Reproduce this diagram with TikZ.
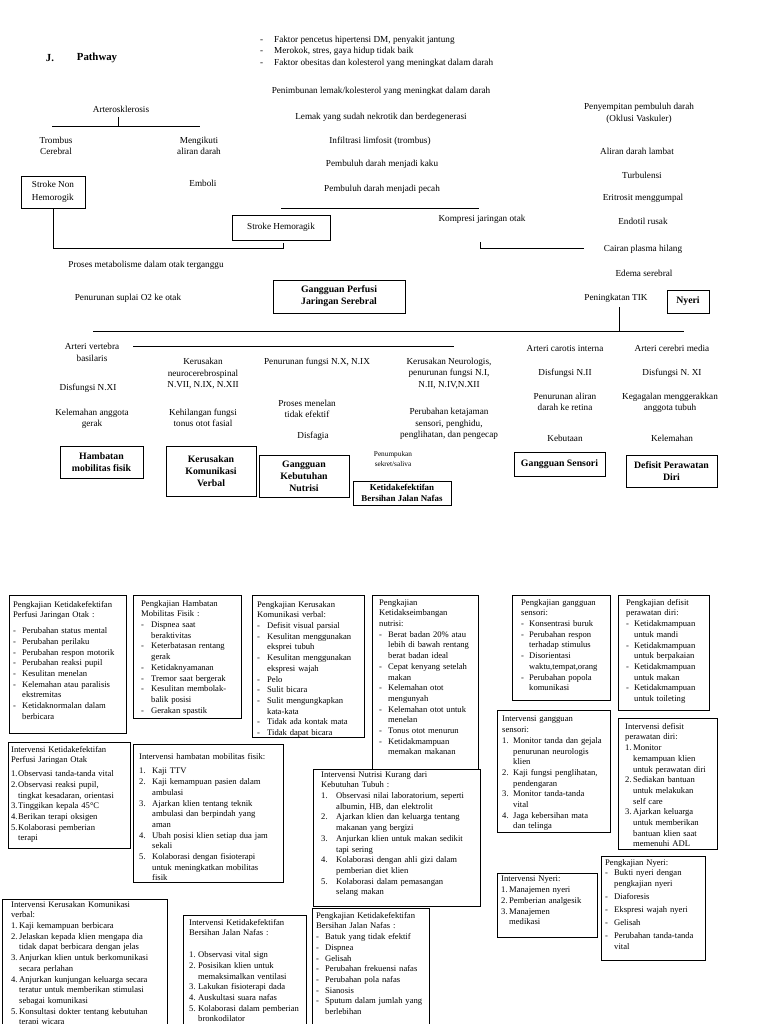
\documentclass[tikz,border=0pt]{standalone}
\usepackage{fontspec}
\setmainfont{Liberation Serif}
\newlength\iw
\newcommand\ditm[1]{\makebox[\iw][l]{-}#1}
\newcommand\dcnt[1]{\hspace*{\iw}#1}
\newcommand\nitm[2]{\makebox[\iw][l]{#1}#2}
\newcommand\ncnt[1]{\hspace*{\iw}#1}
\begin{document}
\begin{tikzpicture}[x=1pt,y=-1pt,
  pt/.style={inner sep=0pt, align=center, font=\fontsize{9.2}{11.5}\selectfont},
  sm/.style={inner sep=0pt, align=center, font=\fontsize{7.3}{9.5}\selectfont},
  pbox/.style={draw, line width=0.8pt, inner sep=0pt, align=center, font=\bfseries\fontsize{9.8}{12}\selectfont},
  pbox2/.style={draw, line width=0.8pt, inner sep=0pt, align=left, font=\fontsize{9.2}{12.5}\selectfont},
  ln/.style={line width=0.8pt},
  kbox/.style={draw, line width=0.8pt, fill=white, inner sep=0pt, anchor=north west},
  ktxt/.style={inner sep=0pt, anchor=north west, align=left, text width=200pt, font=\fontsize{8.6}{10.7}\selectfont}]
\useasboundingbox (0,0) rectangle (768,1024);
\fill[white] (0,0) rectangle (768,1024);
\clip (0,0) rectangle (768,1024);

% ---------- header ----------
\node[pt, font=\bfseries\fontsize{10.8}{12}\selectfont] (j) at (50,58) {J.};
\node[pt, font=\bfseries\fontsize{10.8}{12}\selectfont] (pw) at (97,58) {Pathway};
\node[pt, anchor=north west, align=left] (fak) at (260,35.5) {\makebox[14pt][l]{-}Faktor pencetus hipertensi DM, penyakit jantung\\
\makebox[14pt][l]{-}Merokok, stres, gaya hidup tidak baik\\
\makebox[14pt][l]{-}Faktor obesitas dan kolesterol yang meningkat dalam darah};

% ---------- central chain ----------
\node[pt] (pen) at (381,91) {Penimbunan lemak/kolesterol yang meningkat dalam darah};
\node[pt] (lem) at (381,117) {Lemak yang sudah nekrotik dan berdegenerasi};
\node[pt] (inf) at (380,141) {Infiltrasi limfosit (trombus)};
\node[pt] (kaku) at (382,164) {Pembuluh darah menjadi kaku};
\node[pt] (pecah) at (382,189) {Pembuluh darah menjadi pecah};
\coordinate (p1) at (281,208); \coordinate (p2) at (479,208);
\draw[ln] (p1) -- (p2);

% ---------- left branch ----------
\node[pt] (arter) at (121,109) {Arterosklerosis};
\coordinate (a1) at (52,126); \coordinate (a2) at (200,126); \coordinate (a3) at (118,117); \coordinate (a4) at (118,126);
\draw[ln] (a1) -- (a2);
\draw[ln] (a3) -- (a4);
\node[pt] (trom) at (56,146) {Trombus\\Cerebral};
\node[pt] (meng) at (199,146) {Mengikuti\\aliran darah};
\node[pt] (emb) at (203,183) {Emboli};
\node[pbox2, minimum width=64pt, minimum height=32pt] (snh) at (53,192) {Stroke Non\\Hemorogik};
\node[pbox2, minimum width=98pt, minimum height=25pt] (sh) at (281,227.5) {Stroke Hemoragik};
\coordinate (sh0) at (283,248); \coordinate (sh1) at (283,243);
\draw[ln] (snh.south) |- (sh0) -- (sh1);
\node[pt] (pros) at (146,265) {Proses metabolisme dalam otak terganggu};
\node[pt] (supl) at (128,298) {Penurunan suplai O2 ke otak};
\node[pbox, minimum width=132pt, minimum height=33pt] (gpjs) at (339,296.5) {Gangguan Perfusi\\Jaringan Serebral};

% ---------- right branch ----------
\node[pt] (kom) at (482,219) {Kompresi jaringan otak};
\coordinate (k1) at (480,242); \coordinate (k2) at (480,248); \coordinate (k3) at (584,248);
\draw[ln] (k1) -- (k2) -- (k3);
\node[pt] (peny) at (639,113.5) {Penyempitan pembuluh darah\\(Oklusi Vaskuler)};
\node[pt] (ali) at (637,151) {Aliran darah lambat};
\node[pt] (turb) at (642,175) {Turbulensi};
\node[pt] (eri) at (643,198) {Eritrosit menggumpal};
\node[pt] (endo) at (643,221) {Endotil rusak};
\node[pt] (cair) at (643,249) {Cairan plasma hilang};
\node[pt] (edema) at (644,273) {Edema serebral};
\node[pt] (tik) at (616,298) {Peningkatan TIK};
\node[pbox, minimum width=42pt, minimum height=23pt] (nyeri) at (688,301.5) {Nyeri};
\coordinate (t1) at (619,307); \coordinate (t2) at (619,331);
\draw[ln] (t1) -- (t2);
\coordinate (L1) at (93,331); \coordinate (L2) at (684,331);
\draw[ln] (L1) -- (L2);
\coordinate (M1) at (133,346); \coordinate (M2) at (454,346);
\draw[ln] (M1) -- (M2);

% ---------- columns ----------
\node[pt] (avb) at (92,352.5) {Arteri vertebra\\basilaris};
\node[pt] (dnxi) at (88,388) {Disfungsi N.XI};
\node[pt] (kag) at (92,419) {Kelemahan anggota\\gerak};
\node[pbox, minimum width=83pt, minimum height=32pt] (hmf) at (101.5,462) {Hambatan\\mobilitas fisik};

\node[pt] (kns) at (203,374) {Kerusakan\\neurocerebrospinal\\N.VII, N.IX, N.XII};
\node[pt] (kft) at (203,418) {Kehilangan fungsi\\tonus otot fasial};
\node[pbox, minimum width=90pt, minimum height=50pt] (kkv) at (211,471) {Kerusakan\\Komunikasi\\Verbal};

\node[pt] (pfn) at (317,362) {Penurunan fungsi N.X, N.IX};
\node[pt] (pme) at (307,409) {Proses menelan\\tidak efektif};
\node[pt] (dis) at (313,436) {Disfagia};
\node[pbox, minimum width=90pt, minimum height=42pt] (gkn) at (304,476) {Gangguan\\Kebutuhan\\Nutrisi};

\node[pt] (kn) at (449,373.5) {Kerusakan Neurologis,\\penurunan fungsi N.I,\\N.II, N.IV,N.XII};
\node[pt] (pks) at (449,424) {Perubahan ketajaman\\sensori, penghidu,\\penglihatan, dan pengecap};
\node[sm] (pss) at (393,459) {Penumpukan\\sekret/saliva};
\node[pbox, font=\bfseries\fontsize{8.9}{10.5}\selectfont, minimum width=98pt, minimum height=24pt] (kbjn) at (402,493) {Ketidakefektifan\\Bersihan Jalan Nafas};

\node[pt] (aci) at (565,348) {Arteri carotis interna};
\node[pt] (dnii) at (565,373) {Disfungsi N.II};
\node[pt] (par) at (565,402) {Penurunan aliran\\darah ke retina};
\node[pt] (keb) at (565,438) {Kebutaan};
\node[pbox, minimum width=91pt, minimum height=24pt] (gs) at (559.5,464) {Gangguan Sensori};

\node[pt] (acm) at (672,348) {Arteri cerebri media};
\node[pt] (dnxi2) at (672,373) {Disfungsi N. XI};
\node[pt] (kgm) at (670,403) {Kegagalan menggerakkan\\anggota tubuh};
\node[pt] (kel) at (672,438) {Kelemahan};
\node[pbox, minimum width=91pt, minimum height=32pt] (dpd) at (671.5,471) {Defisit Perawatan\\Diri};

% ---------- bottom boxes ----------
% A
\node[kbox, minimum width=117pt, minimum height=138pt] (A) at (9,595) {};
\node[ktxt] (At) at (13,601) {\setlength\iw{9pt}\noindent Pengkajian Ketidakefektifan\\
Perfusi Jaringan Otak :\\[5pt]
\ditm{Perubahan status mental}\\
\ditm{Perubahan perilaku}\\
\ditm{Perubahan respon motorik}\\
\ditm{Perubahan reaksi pupil}\\
\ditm{Kesulitan menelan}\\
\ditm{Kelemahan atau paralisis}\\
\dcnt{ekstremitas}\\
\ditm{Ketidaknormalan dalam}\\
\dcnt{berbicara}};
% B
\node[kbox, minimum width=108pt, minimum height=123pt] (B) at (133,595) {};
\node[ktxt] (Bt) at (141,600) {\setlength\iw{10pt}\noindent Pengkajian Hambatan\\
Mobilitas Fisik :\\
\ditm{Dispnea saat}\\
\dcnt{beraktivitas}\\
\ditm{Keterbatasan rentang}\\
\dcnt{gerak}\\
\ditm{Ketidaknyamanan}\\
\ditm{Tremor saat bergerak}\\
\ditm{Kesulitan membolak-}\\
\dcnt{balik posisi}\\
\ditm{Gerakan spastik}};
% C
\node[kbox, minimum width=112pt, minimum height=142pt] (C) at (252,595) {};
\node[ktxt] (Ct) at (257,601) {\setlength\iw{10pt}\noindent Pengkajian Kerusakan\\
Komunikasi verbal:\\
\ditm{Defisit visual parsial}\\
\ditm{Kesulitan menggunakan}\\
\dcnt{eksprei tubuh}\\
\ditm{Kesulitan menggunakan}\\
\dcnt{ekspresi wajah}\\
\ditm{Pelo}\\
\ditm{Sulit bicara}\\
\ditm{Sulit mengungkapkan}\\
\dcnt{kata-kata}\\
\ditm{Tidak ada kontak mata}\\
\ditm{Tidak dapat bicara}};
% D
\node[kbox, minimum width=106pt, minimum height=180pt] (D) at (372,595) {};
\node[ktxt] (Dt) at (379,599) {\setlength\iw{9pt}\noindent Pengkajian\\
Ketidakseimbangan\\
nutrisi:\\
\ditm{Berat badan 20\% atau}\\
\dcnt{lebih di bawah rentang}\\
\dcnt{berat badan ideal}\\
\ditm{Cepat kenyang setelah}\\
\dcnt{makan}\\
\ditm{Kelemahan otot}\\
\dcnt{mengunyah}\\
\ditm{Kelemahan otot untuk}\\
\dcnt{menelan}\\
\ditm{Tonus otot menurun}\\
\ditm{Ketidakmampuan}\\
\dcnt{memakan makanan}};
% E
\node[kbox, minimum width=98pt, minimum height=105pt] (E) at (512,595) {};
\node[ktxt] (Et) at (521,599) {\setlength\iw{8pt}\noindent Pengkajian gangguan\\
sensori:\\
\ditm{Konsentrasi buruk}\\
\ditm{Perubahan respon}\\
\dcnt{terhadap stimulus}\\
\ditm{Disorientasi}\\
\dcnt{waktu,tempat,orang}\\
\ditm{Perubahan popola}\\
\dcnt{komunikasi}};
% F
\node[kbox, minimum width=91pt, minimum height=115pt] (F) at (618,595) {};
\node[ktxt] (Ft) at (626,599) {\setlength\iw{8pt}\noindent Pengkajian defisit\\
perawatan diri:\\
\ditm{Ketidakmampuan}\\
\dcnt{untuk mandi}\\
\ditm{Ketidakmampuan}\\
\dcnt{untuk berpakaian}\\
\ditm{Ketidakmampuan}\\
\dcnt{untuk makan}\\
\ditm{Ketidakmampuan}\\
\dcnt{untuk toileting}};
% G
\node[kbox, minimum width=113pt, minimum height=122pt] (G) at (497,710) {};
\node[ktxt] (Gt) at (502,716) {\setlength\iw{11pt}\noindent Intervensi gangguan\\
sensori:\\
\nitm{1.}{Monitor tanda dan gejala}\\
\ncnt{penurunan neurologis}\\
\ncnt{klien}\\
\nitm{2.}{Kaji fungsi penglihatan,}\\
\ncnt{pendengaran}\\
\nitm{3.}{Monitor tanda-tanda}\\
\ncnt{vital}\\
\nitm{4.}{Jaga kebersihan mata}\\
\ncnt{dan telinga}};
% H
\node[kbox, minimum width=99pt, minimum height=131pt] (H) at (618,718) {};
\node[ktxt] (Ht) at (625,723) {\setlength\iw{8pt}\noindent Intervensi defisit\\
perawatan diri:\\
\nitm{1.}{Monitor}\\
\ncnt{kemampuan klien}\\
\ncnt{untuk perawatan diri}\\
\nitm{2.}{Sediakan bantuan}\\
\ncnt{untuk melakukan}\\
\ncnt{self care}\\
\nitm{3.}{Ajarkan keluarga}\\
\ncnt{untuk memberikan}\\
\ncnt{bantuan klien saat}\\
\ncnt{memenuhi ADL}};
% I
\node[kbox, minimum width=122pt, minimum height=106pt] (I) at (8,742) {};
\node[ktxt] (It) at (11,746) {\setlength\iw{7pt}\noindent Intervensi Ketidakefektifan\\
Perfusi Jaringan Otak\\[3pt]
\nitm{1.}{Observasi tanda-tanda vital}\\
\nitm{2.}{Observasi reaksi pupil,}\\
\ncnt{tingkat kesadaran, orientasi}\\
\nitm{3.}{Tinggikan kepala 45°C}\\
\nitm{4.}{Berikan terapi oksigen}\\
\nitm{5.}{Kolaborasi pemberian}\\
\ncnt{terapi}};
% J
\node[kbox, minimum width=150pt, minimum height=138pt] (J) at (133,744) {};
\node[ktxt] (Jt) at (139,753) {\setlength\iw{13pt}\noindent Intervensi hambatan mobilitas fisik:\\[4pt]
\nitm{1.}{Kaji TTV}\\
\nitm{2.}{Kaji kemampuan pasien dalam}\\
\ncnt{ambulasi}\\
\nitm{3.}{Ajarkan klien tentang teknik}\\
\ncnt{ambulasi dan berpindah yang}\\
\ncnt{aman}\\
\nitm{4.}{Ubah posisi klien setiap dua jam}\\
\ncnt{sekali}\\
\nitm{5.}{Kolaborasi dengan fisioterapi}\\
\ncnt{untuk meningkatkan mobilitas}\\
\ncnt{fisik}};
% K
\node[kbox, minimum width=167pt, minimum height=137pt] (K) at (313,769) {};
\node[ktxt] (Kt) at (321,771) {\setlength\iw{15pt}\noindent Intervensi Nutrisi Kurang dari\\
Kebutuhan Tubuh :\\
\nitm{1.}{Observasi nilai laboratorium, seperti}\\
\ncnt{albumin, HB, dan elektrolit}\\
\nitm{2.}{Ajarkan klien dan keluarga tentang}\\
\ncnt{makanan yang bergizi}\\
\nitm{3.}{Anjurkan klien untuk makan sedikit}\\
\ncnt{tapi sering}\\
\nitm{4.}{Kolaborasi dengan ahli gizi dalam}\\
\ncnt{pemberian diet klien}\\
\nitm{5.}{Kolaborasi dalam pemasangan}\\
\ncnt{selang makan}};
% L
\node[kbox, minimum width=100pt, minimum height=64pt] (L) at (497,873) {};
\node[ktxt] (Lt) at (501,876) {\setlength\iw{8pt}\noindent Intervensi Nyeri:\\
\nitm{1.}{Manajemen nyeri}\\
\nitm{2.}{Pemberian analgesik}\\
\nitm{3.}{Manajemen}\\
\ncnt{medikasi}};
% M
\node[kbox, minimum width=104pt, minimum height=104pt] (M) at (601,856) {};
\node[ktxt] (Mt) at (605,859) {\setlength\iw{9pt}\noindent Pengkajian Nyeri:\\
\ditm{Bukti nyeri dengan}\\
\dcnt{pengkajian nyeri}\\[2pt]
\ditm{Diaforesis}\\[3pt]
\ditm{Ekspresi wajah nyeri}\\[2pt]
\ditm{Gelisah}\\[2pt]
\ditm{Perubahan tanda-tanda}\\
\dcnt{vital}};
% N
\node[kbox, minimum width=165pt, minimum height=150pt] (N) at (2,899) {};
\node[ktxt] (Nt) at (11,901) {\setlength\iw{8pt}\noindent Intervensi Kerusakan Komunikasi\\
verbal:\\
\nitm{1.}{Kaji kemampuan berbicara}\\
\nitm{2.}{Jelaskan kepada klien mengapa dia}\\
\ncnt{tidak dapat berbicara dengan jelas}\\
\nitm{3.}{Anjurkan klien untuk berkomunikasi}\\
\ncnt{secara perlahan}\\
\nitm{4.}{Anjurkan kunjungan keluarga secara}\\
\ncnt{teratur untuk memberikan stimulasi}\\
\ncnt{sebagai komunikasi}\\
\nitm{5.}{Konsultasi dokter tentang kebutuhan}\\
\ncnt{terapi wicara}};
% O
\node[kbox, minimum width=123pt, minimum height=140pt] (O) at (183,915) {};
\node[ktxt] (Ot) at (189,919) {\setlength\iw{9pt}\noindent Intervensi Ketidakefektifan\\
Bersihan Jalan Nafas :\\[11pt]
\nitm{1.}{Observasi vital sign}\\
\nitm{2.}{Posisikan klien untuk}\\
\ncnt{memaksimalkan ventilasi}\\
\nitm{3.}{Lakukan fisioterapi dada}\\
\nitm{4.}{Auskultasi suara nafas}\\
\nitm{5.}{Kolaborasi dalam pemberian}\\
\ncnt{bronkodilator}};
% P
\node[kbox, minimum width=117pt, minimum height=140pt] (P) at (312,908) {};
\node[ktxt] (Pt) at (316,912) {\setlength\iw{9pt}\noindent Pengkajian Ketidakefektifan\\
Bersihan Jalan Nafas :\\
\ditm{Batuk yang tidak efektif}\\
\ditm{Dispnea}\\
\ditm{Gelisah}\\
\ditm{Perubahan frekuensi nafas}\\
\ditm{Perubahan pola nafas}\\
\ditm{Sianosis}\\
\ditm{Sputum dalam jumlah yang}\\
\dcnt{berlebihan}};
\end{tikzpicture}
\end{document}
